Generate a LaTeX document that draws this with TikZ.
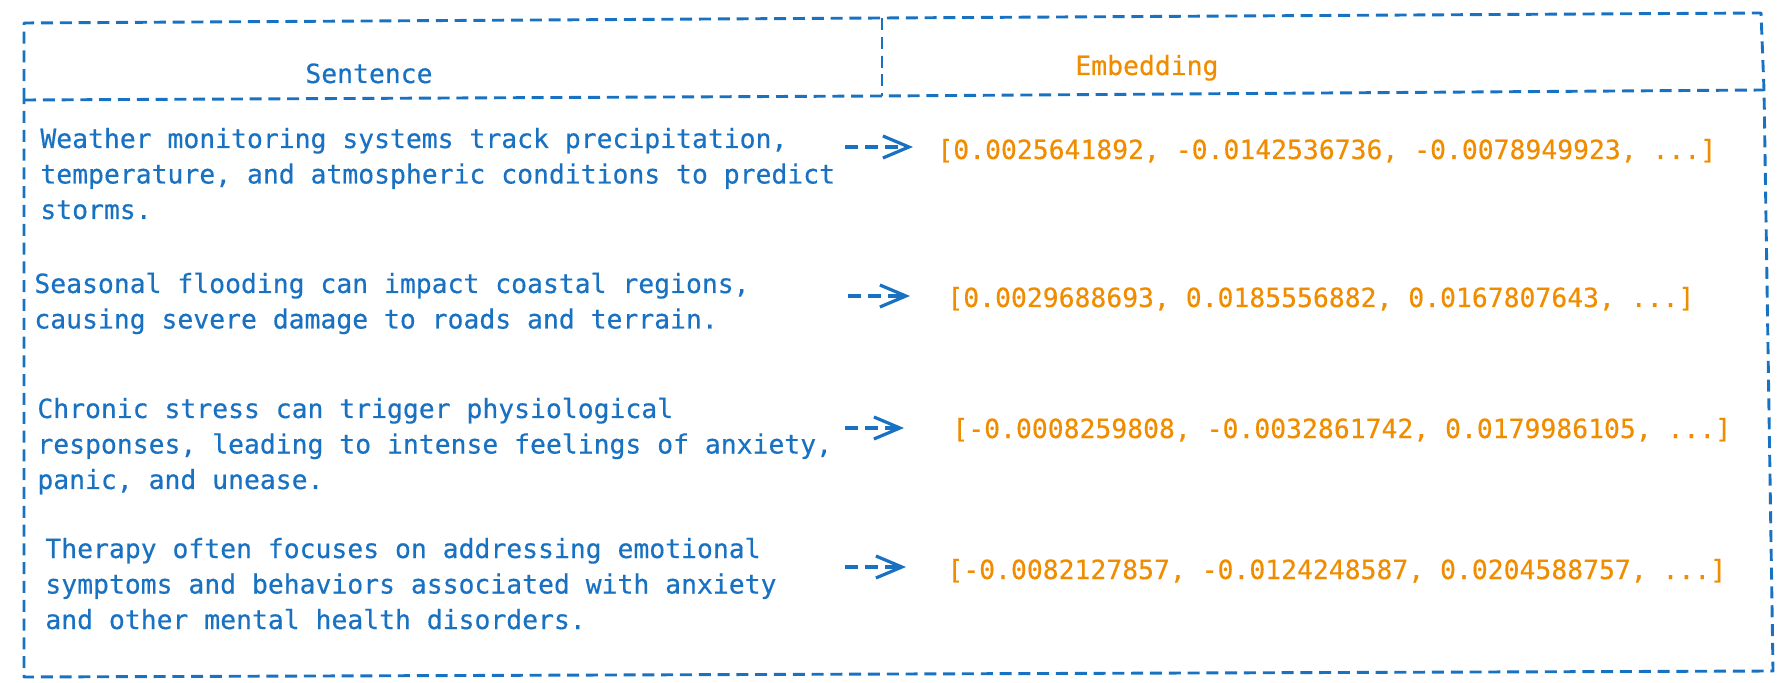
\documentclass[tikz,border=0pt]{standalone}
\usepackage{fontspec}
\newfontfamily\exmono[FakeBold=0.4]{DejaVu Sans Mono}
\usetikzlibrary{arrows.meta}
\definecolor{exblue}{HTML}{1971C2}
\definecolor{exorange}{HTML}{F08C00}
\begin{document}
\begin{tikzpicture}[x=0.5pt,y=-0.5pt,
  boxline/.style={draw=exblue, line width=1.45pt, dash pattern=on 6pt off 3.4pt, line join=round},
  txt/.style={anchor=base west, inner sep=0pt, font=\exmono\fontsize{13.2}{17.75}\selectfont},
  sent/.style={txt, text=exblue},
  emb/.style={txt, text=exorange},
  conn/.style={draw=exblue, line width=1.6pt, dash pattern=on 6.5pt off 3.5pt,
    -{Straight Barb[length=13pt,width=11pt,line width=1.6pt]}}
]
\useasboundingbox (0,0) rectangle (1786,683);

% table frame
\draw[boxline] (24,100) -- (24,23) -- (882,18) -- (1761,13) -- (1764,90) -- (1773,671) -- (24,677) -- cycle;
\draw[boxline] (24,100) -- (882,96) -- (1764,90);
\draw[boxline] (882,18) -- (882,96);

% headers
\node[sent] (hs) at (305,83) {Sentence};
\node[emb] (he) at (1075,75) {Embedding};

% sentences
\node[sent] (s1) at (40,148) {\vtop{\hbox{Weather monitoring systems track precipitation,}\hbox{temperature, and atmospheric conditions to predict}\hbox{storms.}}};
\node[sent] (s2) at (34,293) {\vtop{\hbox{Seasonal flooding can impact coastal regions,}\hbox{causing severe damage to roads and terrain.}}};
\node[sent] (s3) at (37,418) {\vtop{\hbox{Chronic stress can trigger physiological}\hbox{responses, leading to intense feelings of anxiety,}\hbox{panic, and unease.}}};
\node[sent] (s4) at (45,558) {\vtop{\hbox{Therapy often focuses on addressing emotional}\hbox{symptoms and behaviors associated with anxiety}\hbox{and other mental health disorders.}}};

% embeddings
\node[emb] (e1) at (937,159) {[0.0025641892, -0.0142536736, -0.0078949923, ...]};
\node[emb] (e2) at (947,307) {[0.0029688693, 0.0185556882, 0.0167807643, ...]};
\node[emb] (e3) at (952,438) {[-0.0008259808, -0.0032861742, 0.0179986105, ...]};
\node[emb] (e4) at (947,579) {[-0.0082127857, -0.0124248587, 0.0204588757, ...]};

% arrows
\coordinate (a1) at (845,147); \coordinate (b1) at (913,147);
\coordinate (a2) at (848,296); \coordinate (b2) at (910,296);
\coordinate (a3) at (845,428); \coordinate (b3) at (904,428);
\coordinate (a4) at (845,567); \coordinate (b4) at (906,567);
\draw[conn] (a1) -- (b1);
\draw[conn] (a2) -- (b2);
\draw[conn] (a3) -- (b3);
\draw[conn] (a4) -- (b4);
\end{tikzpicture}
\end{document}
